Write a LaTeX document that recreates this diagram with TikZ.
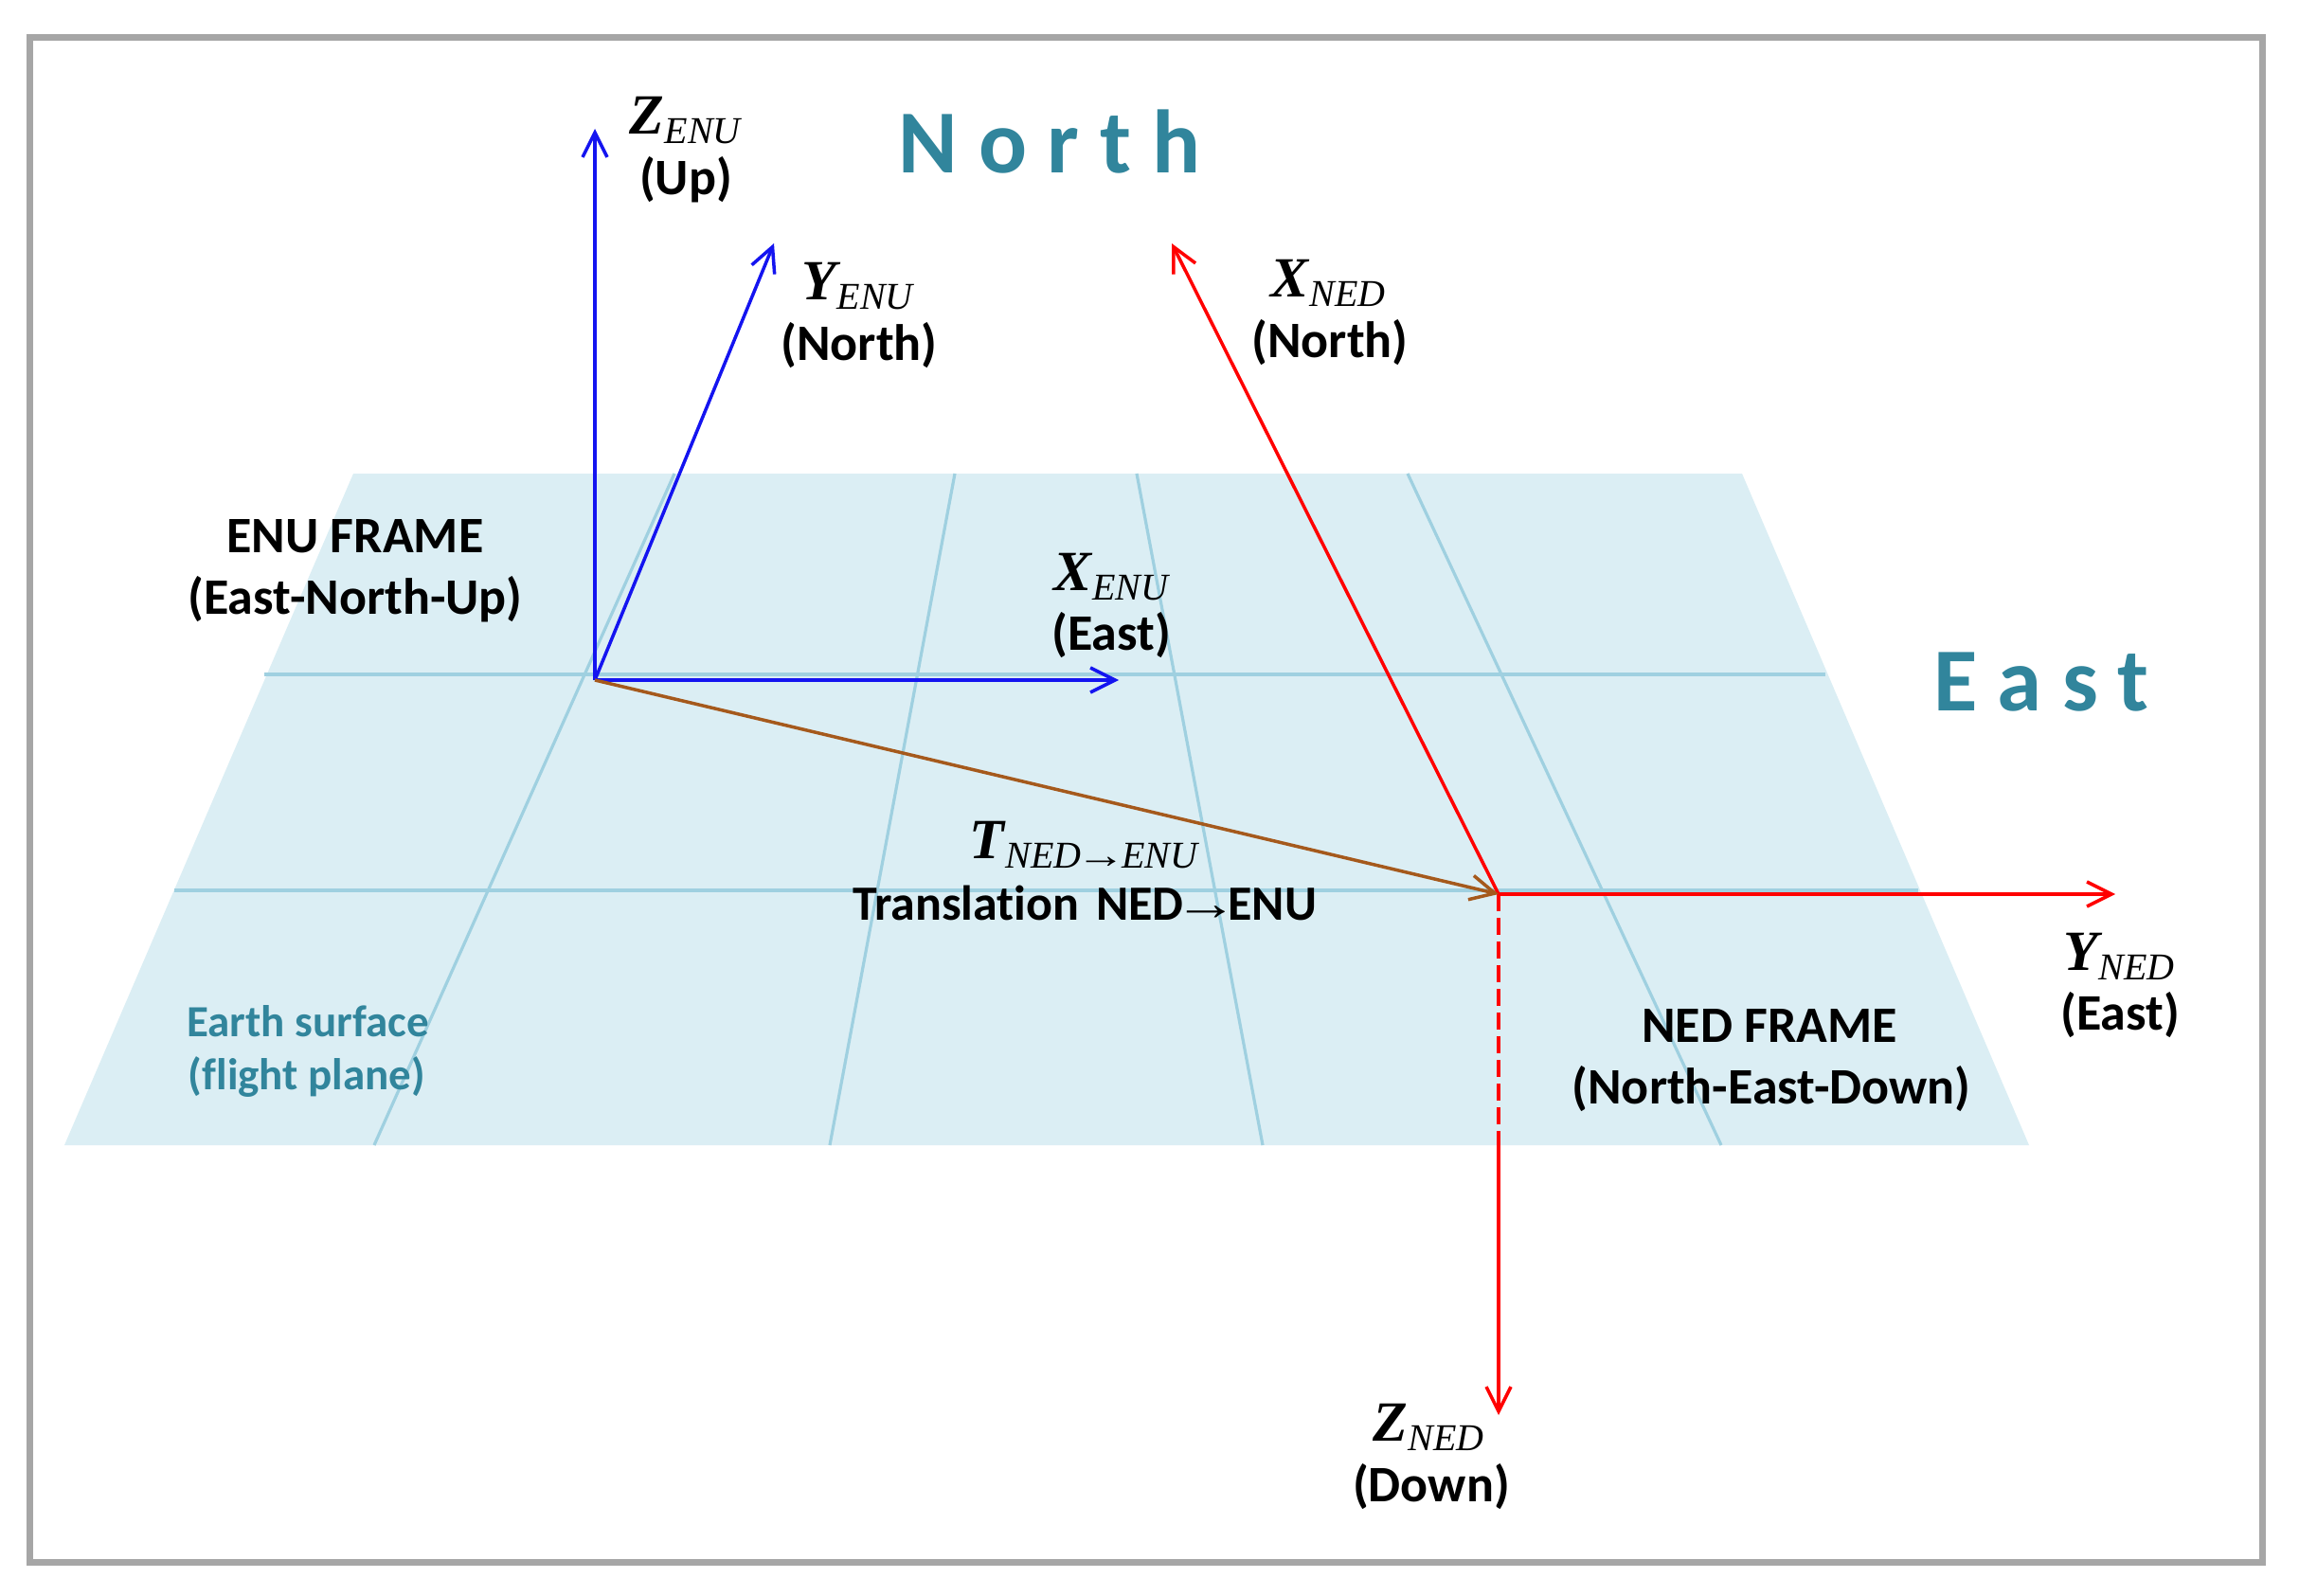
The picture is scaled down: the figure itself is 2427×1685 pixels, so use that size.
\documentclass[tikz,border=0pt]{standalone}
\usepackage{fontspec}
\usetikzlibrary{arrows.meta}
\setmainfont{Carlito}[Ligatures=CommonOff]
\newfontfamily\mathfam{Liberation Serif}
\newfontfamily\spacedfam[LetterSpace=23]{Carlito}
\definecolor{planefill}{HTML}{DBEEF4}
\definecolor{gridblue}{HTML}{9FD0E0}
\definecolor{tealtext}{HTML}{31859C}
\definecolor{framegray}{HTML}{A6A6A6}
\definecolor{enublue}{HTML}{1414F0}
\definecolor{brownarrow}{HTML}{A5591C}
\newcommand{\symlab}[2]{{\mathfam\bfseries\itshape\fontsize{60}{62}\selectfont #1\kern1pt\raisebox{-10pt}{\fontsize{40}{42}\selectfont\mdseries #2}}}
\newcommand{\thinarrow}{{\mathfam\upshape\mdseries\kern-0.12em\scalebox{1.3}[1]{→}\kern-0.12em}}
\newcommand{\tightarrow}{{\mathfam\upshape\mdseries\kern-0.2em\scalebox{1.3}[1]{→}\kern-0.2em}}
\tikzset{
  x=1pt,y=-1pt,
  gridline/.style={draw=gridblue,line width=3.2pt},
  axisline/.style={line width=3.5pt,-{Straight Barb[length=26pt,width=26pt,line width=3.5pt]}},
  enuaxis/.style={axisline,draw=enublue},
  nedaxis/.style={axisline,draw=red},
  lab/.style={inner sep=0pt,font=\fontsize{54}{56}\selectfont\bfseries,text=black},
  earthlab/.style={inner sep=0pt,font=\fontsize{47}{49}\selectfont\bfseries,text=tealtext},
  direction/.style={inner sep=0pt,font=\fontsize{95}{97}\selectfont\spacedfam\bfseries,text=tealtext},
  symbol/.style={inner sep=0pt}
}
\begin{document}
\begin{tikzpicture}
\useasboundingbox (0,0) rectangle (2427,1685);
\fill[white] (0,0) rectangle (2427,1685);
\draw[framegray,line width=7pt] (31.5,40) rectangle (2388,1649.5);
\fill[planefill] (373,500) -- (1839,500) -- (2142,1209) -- (68,1209) -- cycle;
% grid
\draw[gridline] (279,712) -- (1927,712);
\draw[gridline] (184,940) -- (2025,940);
\draw[gridline] (712,500) -- (395,1209);
\draw[gridline] (1008,500) -- (876,1209);
\draw[gridline] (1200,500) -- (1333,1209);
\draw[gridline] (1486,500) -- (1817,1209);
% axes
\coordinate (enu) at (628,718);
\coordinate (ned) at (1582,944);
\coordinate (zenutip) at (628,136);
\coordinate (yenutip) at (817,257);
\coordinate (xenutip) at (1181,718);
\coordinate (xnedtip) at (1237,257);
\coordinate (ynedtip) at (2233,944);
\coordinate (znedtip) at (1582,1494);
\coordinate (planecross) at (1582,1209);
\draw[enuaxis] (enu) -- (zenutip);
\draw[enuaxis] (enu) -- (yenutip);
\draw[enuaxis] (enu) -- (xenutip);
\draw[nedaxis] (ned) -- (xnedtip);
\draw[nedaxis] (ned) -- (ynedtip);
\draw[red,line width=3.5pt,dash pattern=on 18pt off 7pt] (ned) -- (planecross);
\draw[nedaxis] (planecross) -- (znedtip);
\draw[axisline,draw=brownarrow] (enu) -- (ned);
% labels
\node[symbol] (zenu) at (723,127) {\symlab{Z}{ENU}};
\node[lab] (zenud) at (724,190) {(Up)};
\node[symbol] (yenu) at (905,302) {\symlab{Y}{ENU}};
\node[lab] (yenud) at (907,365) {(North)};
\node[symbol] (xned) at (1402,299) {\symlab{X}{NED}};
\node[lab] (xnedd) at (1404,362) {(North)};
\node[symbol] (xenu) at (1173,609) {\symlab{X}{ENU}};
\node[lab] (xenud) at (1173,671) {(East)};
\node[symbol] (tsym) at (1144,892) {\symlab{T}{NED\thinarrow ENU}};
\node[lab,font=\fontsize{52}{54}\selectfont\bfseries] (tlab) at (1145,953) {Translation\hspace{6pt} NED\tightarrow ENU};
\node[symbol] (yned) at (2237,1010) {\symlab{Y}{NED}};
\node[lab] (ynedd) at (2238,1072) {(East)};
\node[symbol] (zned) at (1508,1507) {\symlab{Z}{NED}};
\node[lab] (znedd) at (1511,1570) {(Down)};
\node[lab] (enuf) at (375,566) {ENU FRAME};
\node[lab] (enufd) at (375,633) {(East-North-Up)};
\node[lab] (nedf) at (1868,1083) {NED FRAME};
\node[lab] (nedfd) at (1870,1150) {(North-East-Down)};
\node[earthlab] (earth1) at (325,1078) {Earth surface};
\node[earthlab] (earth2) at (324,1137) {(flight plane)};
\node[direction] (north) at (1108,150) {North};
\node[direction] (east) at (2155,720) {East};
\end{tikzpicture}
\end{document}
